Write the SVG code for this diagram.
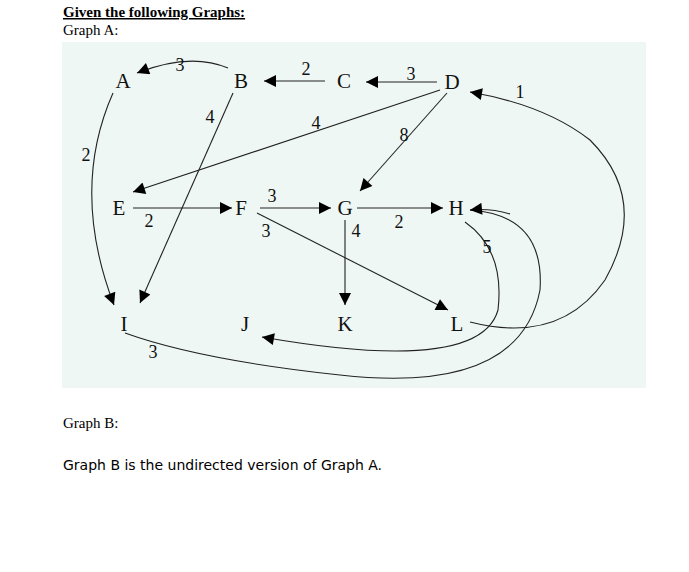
<svg xmlns="http://www.w3.org/2000/svg" width="689" height="572" viewBox="0 0 689 572">
<style>
.t{font-family:"Liberation Serif",serif;font-size:15px;fill:#000}
.n{font-family:"Liberation Serif",serif;font-size:21px;fill:#111;text-anchor:middle}
.w{font-family:"Liberation Serif",serif;font-size:18px;fill:#111;text-anchor:middle}
.e{fill:none;stroke:#222;stroke-width:1.1;marker-end:url(#ah)}
.p{fill:none;stroke:#222;stroke-width:1.1}
</style>
<defs>
<marker id="ah" viewBox="0 0 10 10" refX="10" refY="5" markerWidth="14" markerHeight="12" markerUnits="userSpaceOnUse" orient="auto"><path d="M0,0L10,5L0,10z" fill="#000"/></marker>
</defs>
<rect width="689" height="572" fill="#fff"/>
<text class="t" x="63" y="17" font-weight="bold" text-decoration="underline">Given the following Graphs:</text>
<text class="t" x="63" y="35">Graph A:</text>
<rect x="62" y="42" width="584" height="346" fill="#eef7f3"/>
<g id="edges">
<path class="e" d="M228,68 Q190,52 137,73"/>
<path class="e" d="M325,81 L264,81"/>
<path class="e" d="M437,82 L366,82"/>
<path class="e" d="M113,93 Q70,190 114,305"/>
<path class="e" d="M233,93 L140,303"/>
<path class="e" d="M440,90 L133,192"/>
<path class="e" d="M447,93 L360,191"/>
<path class="e" d="M133,208 L232,208"/>
<path class="e" d="M260,208 L331,208"/>
<path class="e" d="M357,208 L443,208"/>
<path class="e" d="M345,220 L345,305"/>
<path class="e" d="M257,213 L448,310"/>
<path class="e" d="M465,222 Q505,250 498,310 Q480,375 262,337"/>
<path class="p" d="M125,333 Q200,360 340,375 Q520,395 540,290 Q545,215 470,210"/>
<path class="e" d="M510,214 Q490,208 470,210"/>
<path class="e" d="M470,322 Q560,345 605,280 Q650,200 590,140 Q545,105 470,92"/>
</g>
<g id="labels">
<text class="w" x="180" y="71">3</text>
<text class="w" x="306" y="75">2</text>
<text class="w" x="411" y="80">3</text>
<text class="w" x="86" y="161">2</text>
<text class="w" x="210" y="123">4</text>
<text class="w" x="316" y="129">4</text>
<text class="w" x="404" y="141">8</text>
<text class="w" x="149" y="227">2</text>
<text class="w" x="272" y="202">3</text>
<text class="w" x="266" y="237">3</text>
<text class="w" x="399" y="228">2</text>
<text class="w" x="356" y="237">4</text>
<text class="w" x="487" y="253">5</text>
<text class="w" x="153" y="358">3</text>
<text class="w" x="520" y="98">1</text>
</g>
<g id="A"><text class="n" x="123" y="88">A</text></g>
<g id="B"><text class="n" x="241" y="88">B</text></g>
<g id="C"><text class="n" x="344" y="88">C</text></g>
<g id="D"><text class="n" x="452" y="89">D</text></g>
<g id="E"><text class="n" x="119" y="215">E</text></g>
<g id="F"><text class="n" x="241" y="215">F</text></g>
<g id="G"><text class="n" x="345" y="215">G</text></g>
<g id="H"><text class="n" x="456" y="215">H</text></g>
<g id="I"><text class="n" x="124" y="331">I</text></g>
<g id="J"><text class="n" x="245" y="331">J</text></g>
<g id="K"><text class="n" x="345" y="331">K</text></g>
<g id="L"><text class="n" x="457" y="331">L</text></g>
<text class="t" x="63" y="428">Graph B:</text>
<text x="63" y="470" font-family="'DejaVu Sans',sans-serif" font-size="14" fill="#000">Graph B is the undirected version of Graph A.</text>
</svg>
